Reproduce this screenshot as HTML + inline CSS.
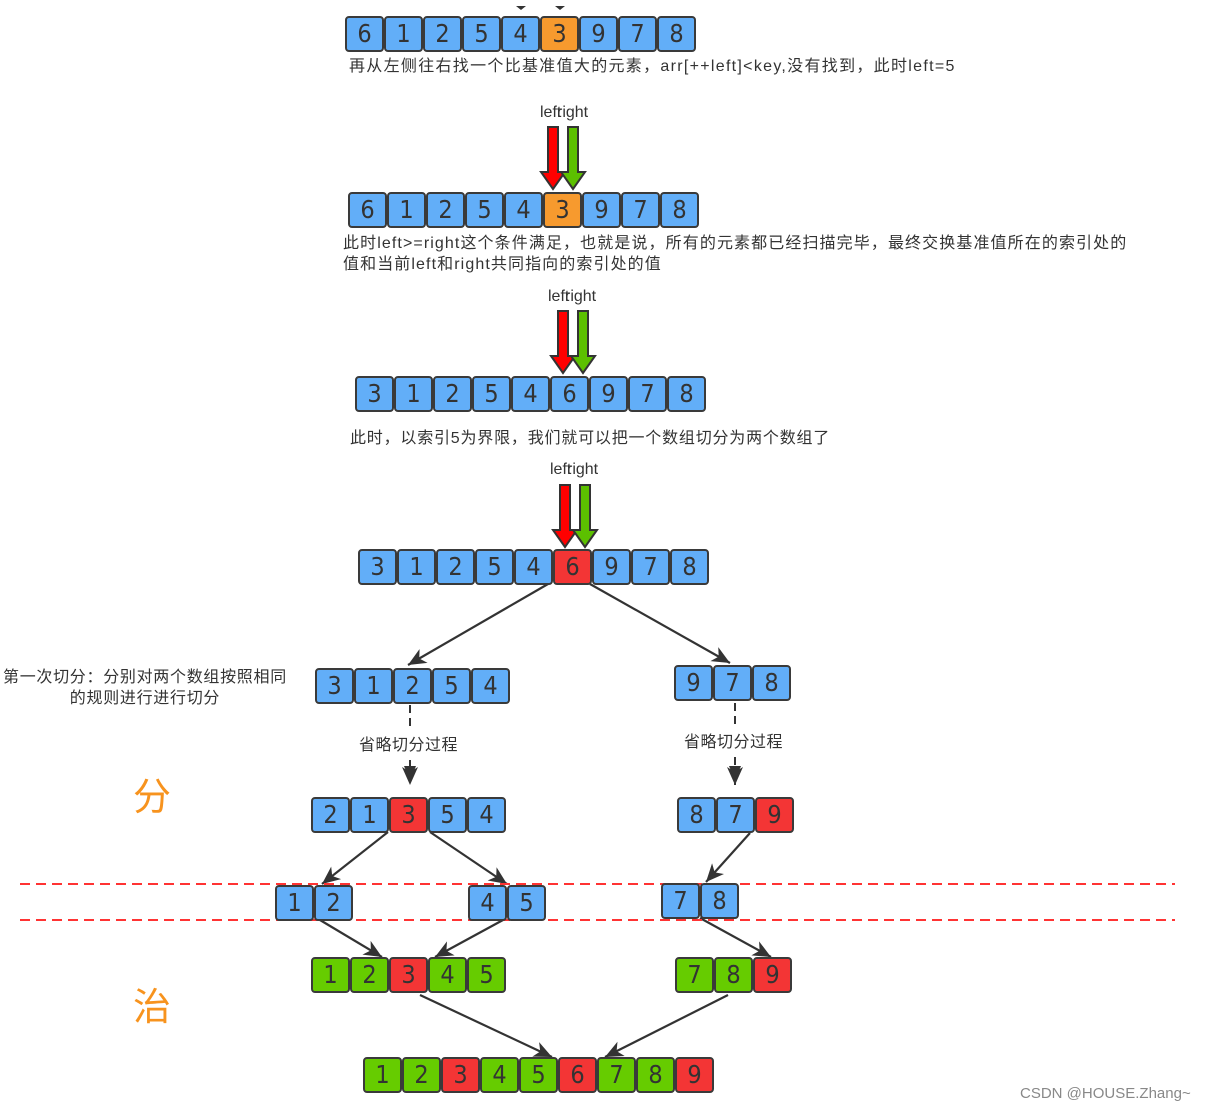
<!DOCTYPE html>
<html><head><meta charset="utf-8"><style>
body{margin:0;width:1221px;height:1113px;background:#fff;position:relative;overflow:hidden;font-family:"Liberation Sans","Noto Sans CJK SC",sans-serif;color:#333}
.r{position:absolute;display:flex}
.r b{box-sizing:border-box;width:39px;height:36px;border:2px solid #3a3a3a;border-radius:4px;background:#62aef8;font-weight:normal;font-size:25px;line-height:32px;text-align:center;color:#333;font-family:"DejaVu Sans Condensed","DejaVu Sans",sans-serif}
.r b.o{background:#f79a2e}.r b.d{background:#f33535}.r b.g{background:#66cc00}
.t{position:absolute;font-size:16px;color:#333;white-space:nowrap;line-height:21px}
svg{position:absolute;left:0;top:0}
</style></head><body>
<svg width="1221" height="1113">
<defs>
<marker id="b" markerWidth="20" markerHeight="18" refX="18" refY="9" orient="auto" markerUnits="userSpaceOnUse"><path d="M0,1L18,9L0,17L5,9z" fill="#333"/></marker></defs>
<path d="M521,10l-5,-4h10z M560,10l-5,-4h10z" fill="#333"/>
<g stroke="#333" stroke-width="2">
<path d="M548,127h10v45h7l-12,17l-12,-17h7z" fill="#f00"/>
<path d="M568,127h10v45h7l-12,17l-12,-17h7z" fill="#5cc000"/>
<path d="M558,311h10v45h7l-12,17l-12,-17h7z" fill="#f00"/>
<path d="M578,311h10v45h7l-12,17l-12,-17h7z" fill="#5cc000"/>
<path d="M560,485h10v45h7l-12,17l-12,-17h7z" fill="#f00"/>
<path d="M580,485h10v45h7l-12,17l-12,-17h7z" fill="#5cc000"/>
</g>
<g stroke="#333" stroke-width="2.2" fill="none" marker-end="url(#b)">
<line x1="548" y1="584" x2="408" y2="665"/>
<line x1="590" y1="584" x2="730" y2="663"/>
<line x1="388" y1="832" x2="322" y2="884"/>
<line x1="430" y1="832" x2="507" y2="884"/>
<line x1="750" y1="833" x2="706" y2="882"/>
<line x1="320" y1="920" x2="382" y2="957"/>
<line x1="503" y1="920" x2="435" y2="957"/>
<line x1="700" y1="918" x2="771" y2="957"/>
<line x1="420" y1="995" x2="552" y2="1057"/>
<line x1="728" y1="995" x2="605" y2="1057"/>
</g>
<g stroke="#333" stroke-width="2" stroke-dasharray="8,5">
<line x1="410" y1="705" x2="410" y2="730"/><line x1="735" y1="703" x2="735" y2="726"/>
<line x1="410" y1="760" x2="410" y2="785" marker-end="url(#b)"/><line x1="735" y1="757" x2="735" y2="785" marker-end="url(#b)"/>
</g>
<path d="M410,780l-6,-14h12z M735,780l-6,-14h12z" fill="#333"/>
<g stroke="#f33" stroke-width="2" stroke-dasharray="10,6">
<line x1="20" y1="884" x2="1175" y2="884"/><line x1="20" y1="920" x2="1175" y2="920"/>
</g>
</svg>
<div class="r" style="left:345px;top:16px"><b>6</b><b>1</b><b>2</b><b>5</b><b>4</b><b class="o">3</b><b>9</b><b>7</b><b>8</b></div>
<div class="t" style="left:349px;top:56px;letter-spacing:1.3px">再从左侧往右找一个比基准值大的元素，arr[++left]&lt;key,没有找到，此时left=5</div>
<div class="t" style="left:540px;top:102px">left</div><div class="t" style="left:557px;top:102px">right</div>
<div class="r" style="left:348px;top:192px"><b>6</b><b>1</b><b>2</b><b>5</b><b>4</b><b class="o">3</b><b>9</b><b>7</b><b>8</b></div>
<div class="t" style="left:343px;top:233px;letter-spacing:1.1px">此时left&gt;=right这个条件满足，也就是说，所有的元素都已经扫描完毕，最终交换基准值所在的索引处的<br>值和当前left和right共同指向的索引处的值</div>
<div class="t" style="left:548px;top:286px">left</div><div class="t" style="left:565px;top:286px">right</div>
<div class="r" style="left:355px;top:376px"><b>3</b><b>1</b><b>2</b><b>5</b><b>4</b><b>6</b><b>9</b><b>7</b><b>8</b></div>
<div class="t" style="left:350px;top:428px;letter-spacing:0.8px">此时，以索引5为界限，我们就可以把一个数组切分为两个数组了</div>
<div class="t" style="left:550px;top:459px">left</div><div class="t" style="left:567px;top:459px">right</div>
<div class="r" style="left:358px;top:549px"><b>3</b><b>1</b><b>2</b><b>5</b><b>4</b><b class="d">6</b><b>9</b><b>7</b><b>8</b></div>
<div class="t" style="left:3px;top:667px;text-align:center;letter-spacing:0.7px">第一次切分：分别对两个数组按照相同<br>的规则进行进行切分</div>
<div class="r" style="left:315px;top:668px"><b>3</b><b>1</b><b>2</b><b>5</b><b>4</b></div>
<div class="r" style="left:674px;top:665px"><b>9</b><b>7</b><b>8</b></div>
<div class="t" style="left:359px;top:735px;letter-spacing:0.5px">省略切分过程</div>
<div class="t" style="left:684px;top:732px;letter-spacing:0.5px">省略切分过程</div>
<div class="t" style="left:133px;top:775px;font-size:38px;line-height:46px;color:#f7931e">分</div>
<div class="t" style="left:133px;top:985px;font-size:38px;line-height:46px;color:#f7931e">治</div>
<div class="r" style="left:311px;top:797px"><b>2</b><b>1</b><b class="d">3</b><b>5</b><b>4</b></div>
<div class="r" style="left:677px;top:797px"><b>8</b><b>7</b><b class="d">9</b></div>
<div class="r" style="left:275px;top:885px"><b>1</b><b>2</b></div>
<div class="r" style="left:468px;top:885px"><b>4</b><b>5</b></div>
<div class="r" style="left:661px;top:883px"><b>7</b><b>8</b></div>
<div class="r" style="left:311px;top:957px"><b class="g">1</b><b class="g">2</b><b class="d">3</b><b class="g">4</b><b class="g">5</b></div>
<div class="r" style="left:675px;top:957px"><b class="g">7</b><b class="g">8</b><b class="d">9</b></div>
<div class="r" style="left:363px;top:1057px"><b class="g">1</b><b class="g">2</b><b class="d">3</b><b class="g">4</b><b class="g">5</b><b class="d">6</b><b class="g">7</b><b class="g">8</b><b class="d">9</b></div>
<div class="t" style="left:1020px;top:1083px;color:#888;font-size:15px">CSDN @HOUSE.Zhang~</div>
</body></html>
